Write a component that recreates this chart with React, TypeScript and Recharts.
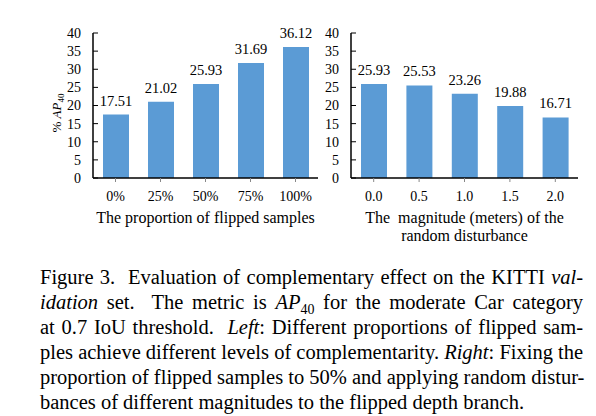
import React from "react";
import { Bar, BarChart, LabelList, XAxis, YAxis } from "recharts";

const proportionLabels = ["0%", "25%", "50%", "75%", "100%"];
const proportionAP = [17.51, 21.02, 25.93, 31.69, 36.12];

const magnitudeLabels = ["0.0", "0.5", "1.0", "1.5", "2.0"];
const magnitudeAP = [25.93, 25.53, 23.26, 19.88, 16.71];

const yTicks = [0, 5, 10, 15, 20, 25, 30, 35, 40];

const FONT = "'Liberation Serif', 'Times New Roman', serif";
const BAR_COLOR = "#5B9BD5";

const leftData = proportionLabels.map((name, i) => ({ name, ap: proportionAP[i] }));
const rightData = magnitudeLabels.map((name, i) => ({ name, ap: magnitudeAP[i] }));

const tickStyle = { fontSize: 14, fill: "#000", fontFamily: FONT };

function XTitle({ viewBox, lines }: any) {
  const cx = viewBox.x + viewBox.width / 2;
  return (
    <text
      x={cx}
      y={viewBox.y + 45}
      textAnchor="middle"
      fontSize={16}
      fontFamily={FONT}
      fill="#000"
      style={{ whiteSpace: "pre" }}
    >
      {lines.map((line: string, i: number) => (
        <tspan key={i} x={cx} dy={i === 0 ? 0 : 18}>
          {line}
        </tspan>
      ))}
    </text>
  );
}

function YTitle() {
  return (
    <text
      transform="translate(61,113) rotate(-90)"
      textAnchor="middle"
      fontSize={13}
      fontFamily={FONT}
      fill="#000"
    >
      <tspan>% </tspan>
      <tspan fontStyle="italic">AP</tspan>
      <tspan fontSize={9} dy={3}>40</tspan>
    </text>
  );
}

function Panel({ data, width, yWidth, marginRight, title, yLabel }: any) {
  return (
    <BarChart
      width={width}
      height={250}
      data={data}
      margin={{ top: 33, right: marginRight, bottom: 0, left: 0 }}
      barSize={26}
    >
      <XAxis
        dataKey="name"
        height={72}
        tick={tickStyle}
        tickSize={4}
        tickMargin={9}
        axisLine={{ stroke: "#000", strokeWidth: 1.5 }}
        tickLine={{ stroke: "#888" }}
        label={<XTitle lines={title} />}
      />
      <YAxis
        width={yWidth}
        domain={[0, 40]}
        ticks={yTicks}
        interval={0}
        tick={tickStyle}
        tickSize={-5}
        tickMargin={17}
        axisLine={{ stroke: "#000", strokeWidth: 1.5 }}
        tickLine={{ stroke: "#000" }}
        label={yLabel ? <YTitle /> : undefined}
      />
      <Bar dataKey="ap" fill={BAR_COLOR} isAnimationActive={false}>
        <LabelList
          dataKey="ap"
          position="top"
          offset={9}
          style={{ fontSize: 14.5, fill: "#000", fontFamily: FONT }}
          formatter={(v: any) => Number(v).toFixed(2)}
        />
      </Bar>
    </BarChart>
  );
}

const captionLines = [
  <>Figure 3.&nbsp; Evaluation of complementary effect on the KITTI <i>val-</i></>,
  <><i>idation</i> set.&nbsp; The metric is <i>AP</i><sub style={{ fontSize: 14, lineHeight: 0 }}>40</sub> for the moderate Car category</>,
  <>at 0.7 IoU threshold.&nbsp; <i>Left</i>: Different proportions of flipped sam-</>,
  <>ples achieve different levels of complementarity. <i>Right</i>: Fixing the</>,
  <>proportion of flipped samples to 50% and applying random distur-</>,
  <>bances of different magnitudes to the flipped depth branch.</>,
];

export default function App() {
  return (
    <div
      style={{
        position: "absolute",
        left: 0,
        top: 0,
        width: 596,
        height: 416,
        background: "#fff",
        fontFamily: FONT,
        overflow: "hidden",
      }}
    >
      <div style={{ position: "absolute", left: 0, top: 0 }}>
        <Panel
          data={leftData}
          width={320}
          yWidth={93}
          marginRight={2}
          title={["The proportion of flipped samples"]}
          yLabel
        />
      </div>
      <div style={{ position: "absolute", left: 320, top: 0 }}>
        <Panel
          data={rightData}
          width={276}
          yWidth={31}
          marginRight={18}
          title={["The  magnitude (meters) of the", "random disturbance"]}
        />
      </div>
      <div
        style={{
          position: "absolute",
          left: 40,
          top: 265,
          width: 543,
          fontSize: 20.5,
          lineHeight: "25px",
          color: "#000",
        }}
      >
        {captionLines.map((line, i) => (
          <div
            key={i}
            style={{
              height: 25,
              textAlign: "justify",
              textAlignLast: i === captionLines.length - 1 ? "left" : "justify",
              whiteSpace: "nowrap",
            }}
          >
            {line}
          </div>
        ))}
      </div>
    </div>
  );
}
